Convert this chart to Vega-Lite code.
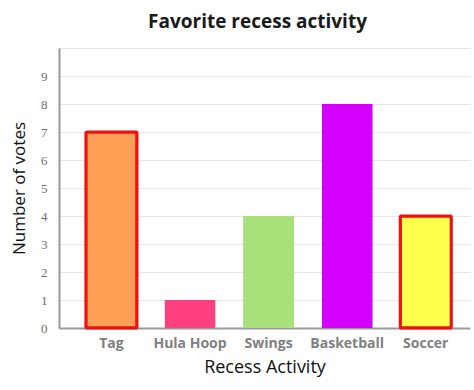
{
  "$schema": "https://vega.github.io/schema/vega-lite/v6.json",
  "width": 411,
  "height": 280,
  "autosize": {"type": "none"},
  "padding": {"left": 59, "top": 48, "right": 4, "bottom": 62},
  "background": "white",
  "title": {
    "text": "Favorite recess activity",
    "font": "Open Sans",
    "fontSize": 19,
    "fontWeight": "bold",
    "color": "#1a1a1a",
    "anchor": "middle",
    "offset": 16,
    "dx": -7
  },
  "data": {
    "values": [
      {"activity": "Tag", "votes": 7},
      {"activity": "Hula Hoop", "votes": 1},
      {"activity": "Swings", "votes": 4},
      {"activity": "Basketball", "votes": 8},
      {"activity": "Soccer", "votes": 4}
    ]
  },
  "mark": {"type": "bar", "cornerRadius": 1},
  "encoding": {
    "x": {
      "field": "activity",
      "type": "nominal",
      "sort": null,
      "scale": {"paddingInner": 0.35, "paddingOuter": 0.29, "align": 0.59},
      "axis": {
        "title": "Recess Activity",
        "titleFont": "Open Sans",
        "titleFontSize": 18,
        "titleFontWeight": "normal",
        "titleColor": "#111",
        "titlePadding": 8,
        "labelAngle": 0,
        "labelFont": "Open Sans",
        "labelFontSize": 14,
        "labelFontWeight": "bold",
        "labelColor": "#808080",
        "labelPadding": 8,
        "ticks": false,
        "domainColor": "#9a9a9a",
        "domainWidth": 2
      }
    },
    "y": {
      "field": "votes",
      "type": "quantitative",
      "scale": {"domain": [0, 10]},
      "axis": {
        "title": "Number of votes",
        "titleFont": "Open Sans",
        "titleFontSize": 17,
        "titleFontWeight": "normal",
        "titleColor": "#111",
        "titlePadding": 12,
        "values": [0, 1, 2, 3, 4, 5, 6, 7, 8, 9, 10],
        "labelExpr": "datum.value == 10 ? '' : datum.label",
        "labelFont": "Liberation Serif",
        "labelFontSize": 13,
        "labelColor": "#707070",
        "labelPadding": 12,
        "ticks": false,
        "grid": true,
        "gridColor": "#e6e6e6",
        "gridWidth": 1,
        "domainColor": "#9a9a9a",
        "domainWidth": 2
      }
    },
    "fill": {
      "field": "activity",
      "type": "nominal",
      "scale": {
        "domain": ["Tag", "Hula Hoop", "Swings", "Basketball", "Soccer"],
        "range": ["#FFA057", "#FF3F7F", "#A8E07A", "#D400FF", "#FFFF4D"]
      },
      "legend": null
    },
    "stroke": {
      "condition": {"test": "datum.activity == 'Tag' || datum.activity == 'Soccer'", "value": "#EE1111"},
      "value": null
    },
    "strokeWidth": {
      "condition": {"test": "datum.activity == 'Tag' || datum.activity == 'Soccer'", "value": 3},
      "value": 0
    }
  },
  "config": {"view": {"stroke": null}}
}
